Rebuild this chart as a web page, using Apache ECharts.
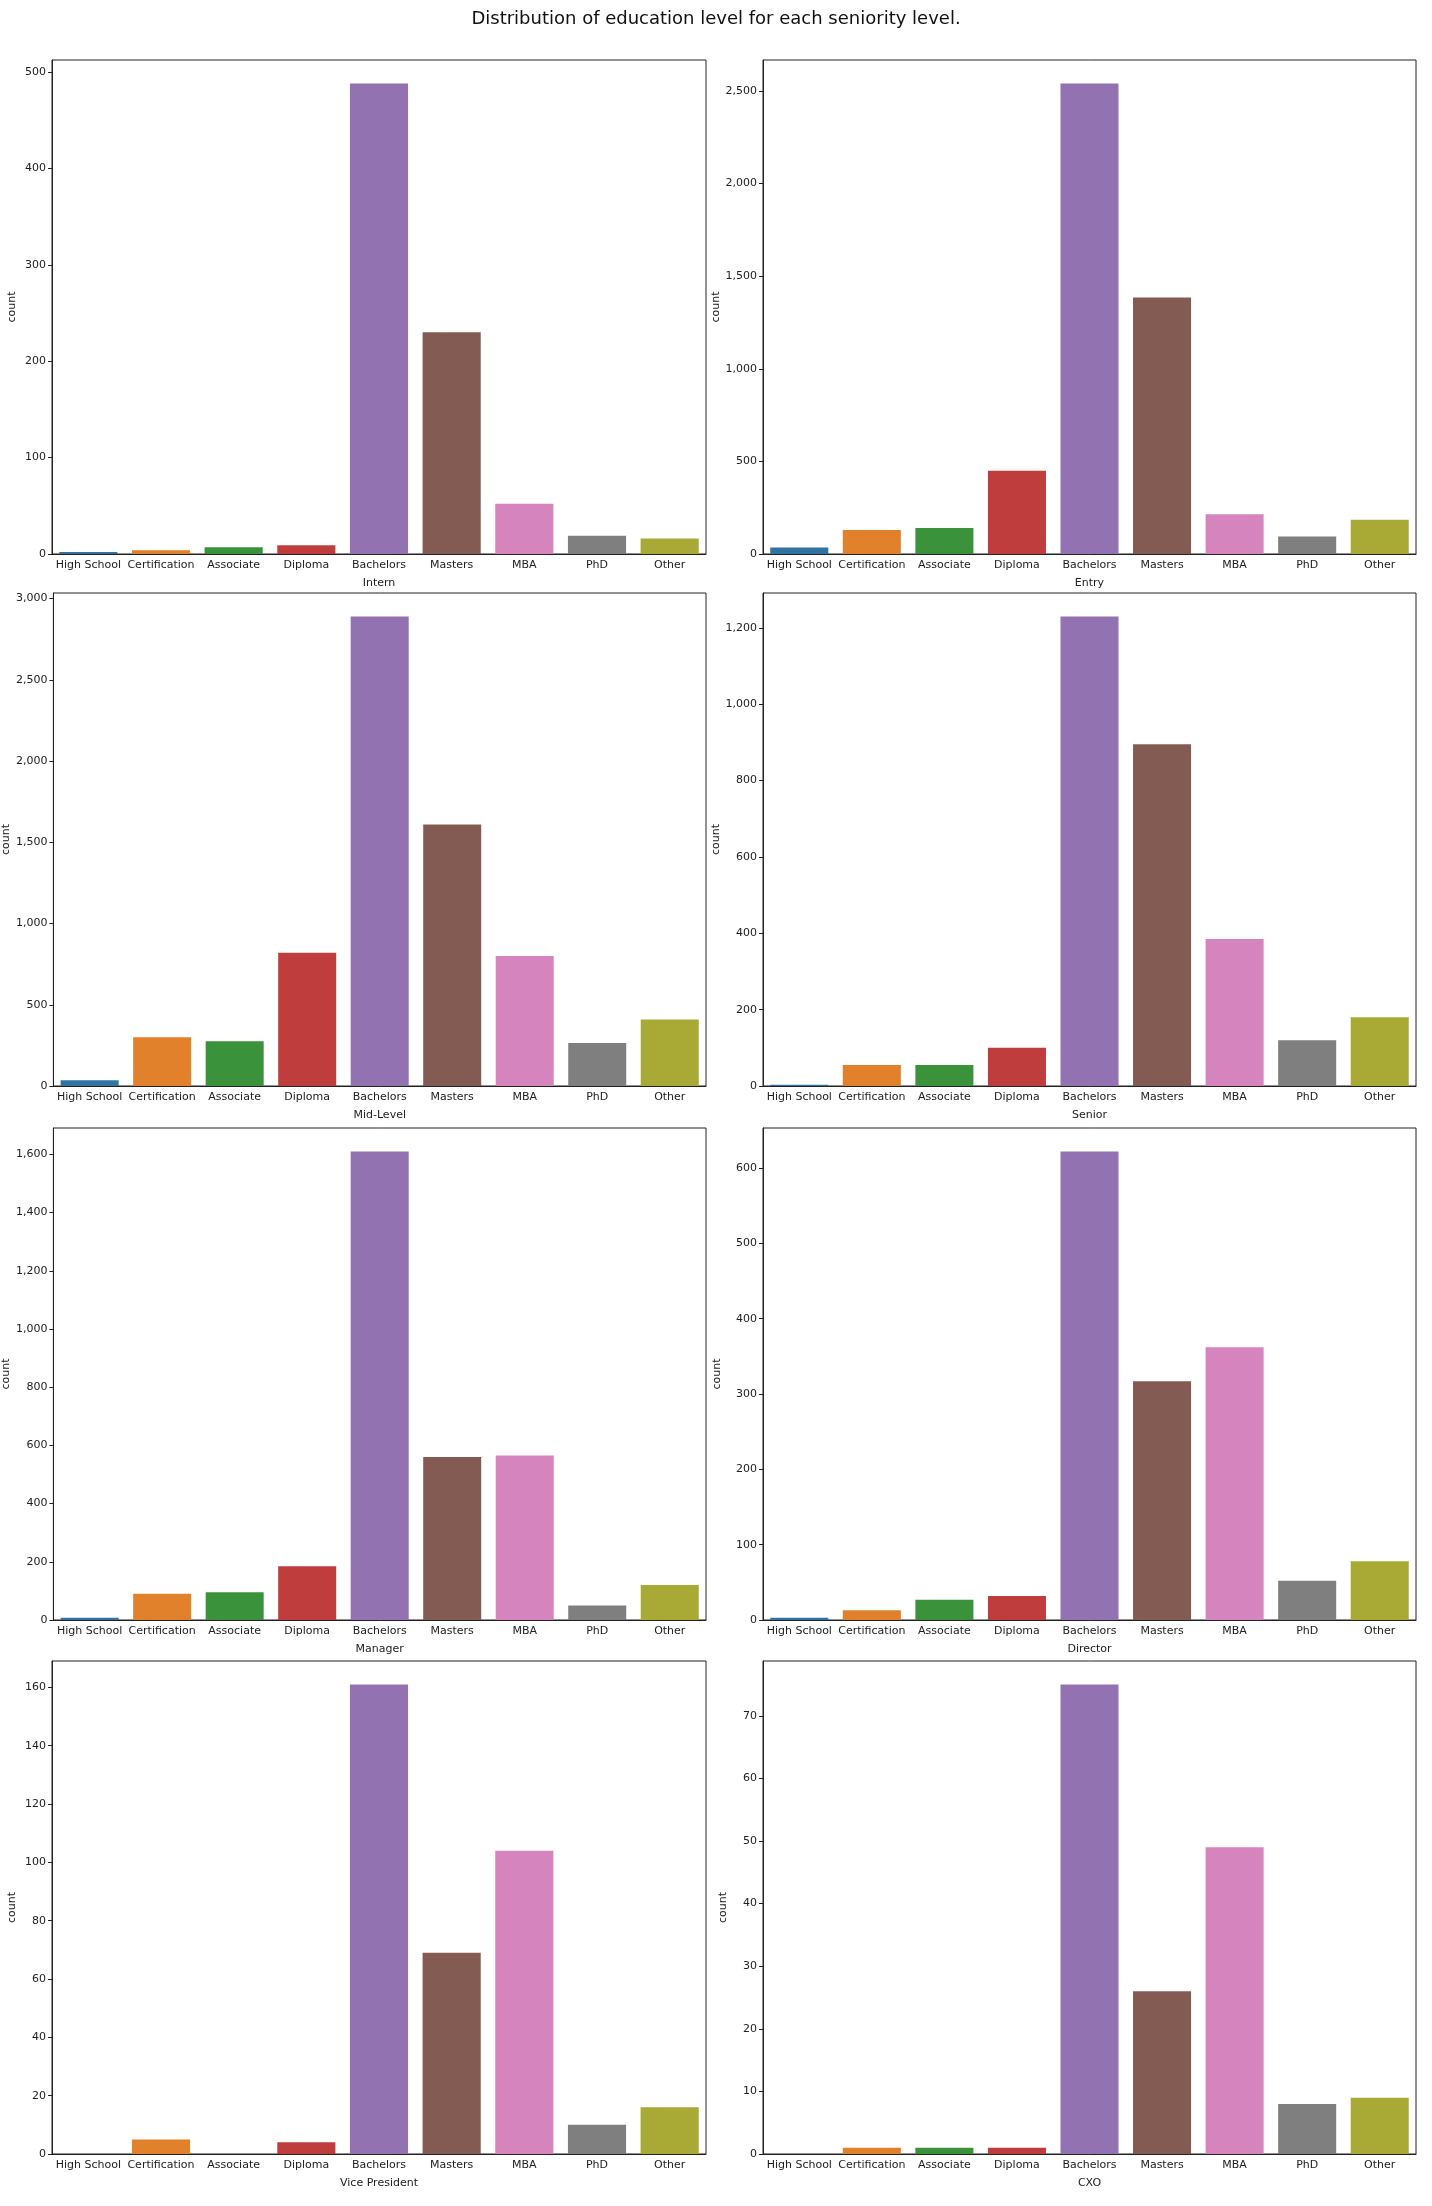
<!DOCTYPE html>
<html><head><meta charset="utf-8">
<script src="https://cdn.jsdelivr.net/npm/echarts@6/dist/echarts.min.js"></script>
<style>html,body{margin:0;background:#fff}#c{width:1432px;height:2206px}</style>
</head><body><div id="c"></div>
<script>
const categories = ['High School','Certification','Associate','Diploma','Bachelors','Masters','MBA','PhD','Other'];
const panelNames = ['Intern','Entry','Mid-Level','Senior','Manager','Director','Vice President','CXO'];
const intern   = [2,4,7,9,488,230,52,19,16];
const entry    = [35,130,140,450,2540,1385,215,95,185];
const midLevel = [35,300,275,820,2890,1610,800,265,410];
const senior   = [3,55,55,100,1230,895,385,120,180];
const manager  = [8,90,95,185,1610,560,565,50,120];
const director = [3,13,27,32,622,317,362,52,78];
const vicePres = [0,5,0,4,161,69,104,10,16];
const cxo      = [0,1,1,1,75,26,49,8,9];
const tickIntervals = [100,500,500,200,200,100,20,10];
const allData = [intern,entry,midLevel,senior,manager,director,vicePres,cxo];
const colors = ['#3274a1','#e1812c','#3a923a','#c03d3e','#9372b2','#845b53','#d684bd','#7f7f7f','#a9aa35'];

const cols = [[52,706],[763,1416]];
const rows = [[60,554],[593,1086],[1128,1620],[1661,2154]];
const font = 'DejaVu Sans';
const grids=[],xAxes=[],yAxes=[],series=[];
allData.forEach((d,i)=>{
  const c=cols[i%2], r=rows[Math.floor(i/2)];
  grids.push({left:c[0],width:c[1]-c[0],top:r[0],height:r[1]-r[0],show:true,borderColor:'#222',borderWidth:1,backgroundColor:'transparent'});
  xAxes.push({type:'category',gridIndex:i,data:categories,name:panelNames[i],nameLocation:'middle',nameGap:24,
    nameTextStyle:{fontFamily:font,fontSize:11,color:'#222'},
    axisLine:{lineStyle:{color:'#222'}},axisTick:{alignWithLabel:true,length:4,lineStyle:{color:'#222'}},
    axisLabel:{fontFamily:font,fontSize:11,color:'#222',interval:0,margin:6}});
  const mx=Math.max(...d)*1.05;
  yAxes.push({type:'value',gridIndex:i,min:0,max:mx,interval:tickIntervals[i],name:'count',nameLocation:'middle',
    nameGap:i===2||i===3||i===4||i===5?40:34,nameTextStyle:{fontFamily:font,fontSize:11,color:'#222'},
    splitLine:{show:false},axisLine:{show:true,lineStyle:{color:'#222'}},axisTick:{show:true,length:4,lineStyle:{color:'#222'}},
    axisLabel:{fontFamily:font,fontSize:11,color:'#222',showMaxLabel:false,margin:6}});
  series.push({type:'bar',xAxisIndex:i,yAxisIndex:i,barCategoryGap:'20%',
    data:d.map((v,j)=>({value:v,itemStyle:{color:colors[j]}})),animation:false});
});
const chart=echarts.init(document.getElementById('c'));
chart.setOption({animation:false,
  title:{text:'Distribution of education level for each seniority level.',left:'center',top:5,
    textStyle:{fontFamily:font,fontSize:18,fontWeight:'normal',color:'#111'}},
  grid:grids,xAxis:xAxes,yAxis:yAxes,series:series});
</script></body></html>
